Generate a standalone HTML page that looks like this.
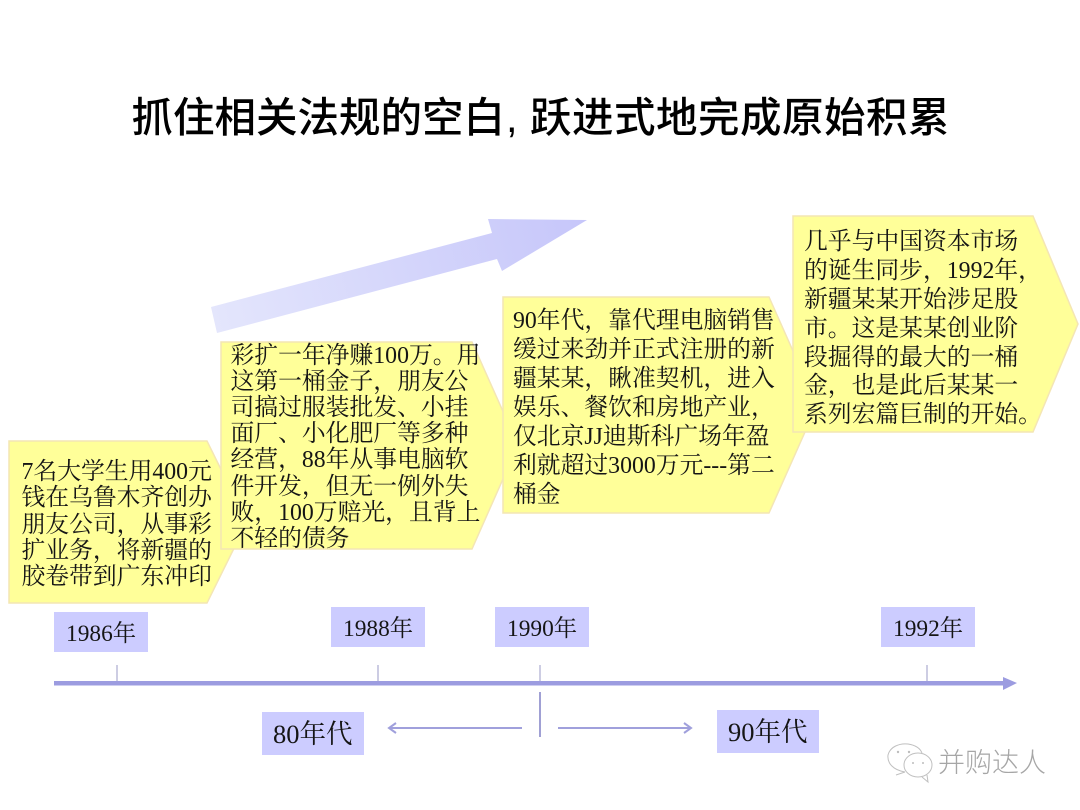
<!DOCTYPE html>
<html lang="zh">
<head>
<meta charset="utf-8">
<title>抓住相关法规的空白，跃进式地完成原始积累</title>
<style>
html,body{margin:0;padding:0;background:#fff;width:1080px;height:810px;overflow:hidden}
svg{display:block}
.t{font-family:"Liberation Serif","Noto Serif CJK SC",serif;font-size:23.8px;fill:#151515}
.y{font-size:23.4px}
.d{font-size:26.5px}
.h{font-family:"Liberation Sans","Noto Sans CJK SC",sans-serif;font-size:41.5px;font-weight:500;fill:#000}
.b{fill:#FFFF99;stroke:#F4E6B4;stroke-width:1.5}
.l{fill:#CCCCFF}
.soft{filter:blur(.35px)}
</style>
</head>
<body>
<svg width="1080" height="810" viewBox="0 0 1080 810" xmlns="http://www.w3.org/2000/svg">
<defs>
<linearGradient id="g" x1="211" y1="320" x2="587" y2="220" gradientUnits="userSpaceOnUse">
<stop offset="0" stop-color="#E4E6FC"/>
<stop offset="1" stop-color="#C6C6FA"/>
</linearGradient>
</defs>
<rect width="1080" height="810" fill="#fff"/>

<g class="soft">
<text class="h" x="131.5" y="132">抓住相关法规的空白</text>
<text class="h" x="506" y="132">,</text>
<text class="h" x="530" y="132" style="letter-spacing:.5px">跃进式地完成原始积累</text>
</g>

<polygon points="211,307 492,233 488,219 587,220 502,271 497,259 217,333" fill="url(#g)"/>

<polygon class="b" points="9,441 207,441 247,522 207,603 9,603"/>
<polygon class="b" points="221,342 472,342 518,445 472,549 221,549"/>
<polygon class="b" points="503,297 769,297 817,405 769,513 503,513"/>
<polygon class="b" points="793,216 1033,216 1078,324 1033,432 793,432"/>

<g class="soft">
<text class="t" x="21.5" y="479">7名大学生用400元</text>
<text class="t" x="21.5" y="505">钱在乌鲁木齐创办</text>
<text class="t" x="21.5" y="532">朋友公司，从事彩</text>
<text class="t" x="21.5" y="558">扩业务，将新疆的</text>
<text class="t" x="21.5" y="584">胶卷带到广东冲印</text>

<text class="t" x="230.5" y="363">彩扩一年净赚100万。用</text>
<text class="t" x="230.5" y="389">这第一桶金子，朋友公</text>
<text class="t" x="230.5" y="415">司搞过服装批发、小挂</text>
<text class="t" x="230.5" y="441">面厂、小化肥厂等多种</text>
<text class="t" x="230.5" y="467">经营，88年从事电脑软</text>
<text class="t" x="230.5" y="494">件开发，但无一例外失</text>
<text class="t" x="230.5" y="520">败，100万赔光，且背上</text>
<text class="t" x="230.5" y="546">不轻的债务</text>

<text class="t" x="513" y="328">90年代，靠代理电脑销售</text>
<text class="t" x="513" y="357">缓过来劲并正式注册的新</text>
<text class="t" x="513" y="386">疆某某，瞅准契机，进入</text>
<text class="t" x="513" y="415">娱乐、餐饮和房地产业，</text>
<text class="t" x="513" y="444">仅北京JJ迪斯科广场年盈</text>
<text class="t" x="513" y="473">利就超过3000万元---第二</text>
<text class="t" x="513" y="502">桶金</text>

<text class="t" x="804" y="249">几乎与中国资本市场</text>
<text class="t" x="804" y="278">的诞生同步，1992年，</text>
<text class="t" x="804" y="307">新疆某某开始涉足股</text>
<text class="t" x="804" y="336">市。这是某某创业阶</text>
<text class="t" x="804" y="365">段掘得的最大的一桶</text>
<text class="t" x="804" y="393">金，也是此后某某一</text>
<text class="t" x="804" y="422">系列宏篇巨制的开始。</text>
</g>

<rect class="l" x="54" y="612" width="94" height="40"/>
<rect class="l" x="331" y="607" width="94" height="40"/>
<rect class="l" x="495" y="607" width="94" height="40"/>
<rect class="l" x="881" y="607" width="94" height="40"/>
<rect class="l" x="262" y="712" width="102" height="43"/>
<rect class="l" x="717" y="710" width="102" height="43"/>

<g class="soft">
<text class="t y" x="66" y="641">1986年</text>
<text class="t y" x="343" y="636">1988年</text>
<text class="t y" x="507" y="636">1990年</text>
<text class="t y" x="893" y="636">1992年</text>
<text class="t d" x="273" y="743">80年代</text>
<text class="t d" x="728" y="741">90年代</text>
</g>

<g stroke="#ABABD0" stroke-width="1.2">
<line x1="117" y1="665" x2="117" y2="683"/>
<line x1="378" y1="665" x2="378" y2="683"/>
<line x1="540" y1="665" x2="540" y2="683"/>
<line x1="927" y1="665" x2="927" y2="683"/>
</g>
<rect x="54" y="681" width="952" height="4.5" fill="#9C9CE0"/>
<polygon points="1003,677 1017,683 1003,690" fill="#9C9CE0"/>
<line x1="540" y1="692" x2="540" y2="737" stroke="#A0A0D4" stroke-width="2"/>

<g stroke="#A0A0DC" stroke-width="2" fill="none">
<line x1="522" y1="728" x2="390" y2="728"/>
<polyline points="396,723 389,728 396,733"/>
<line x1="558" y1="728" x2="690" y2="728"/>
<polyline points="684,723 691,728 684,733"/>
</g>

<g transform="translate(0,3)">
<g fill="none" stroke="#C0C0C0" stroke-width="1">
<path d="M905 769 C893 767 887 760 888 752 C890 744 899 740 908 741 C915 742 920 745 922 750"/>
<path d="M905 769 L896 772"/>
<ellipse cx="918" cy="762" rx="14" ry="12"/>
<path d="M922 774 L928 779 L927 772"/>
</g>
<g fill="#BDBDBD">
<circle cx="898" cy="749" r="1.2"/><circle cx="909" cy="749" r="1.2"/>
<circle cx="913" cy="760" r="1"/><circle cx="923" cy="760" r="1"/>
</g>
</g>
<text x="938" y="772" style="font-family:'Liberation Sans','Noto Sans CJK SC',sans-serif;font-size:27px;font-weight:300;fill:#A6A6A6">并购达人</text>
</svg>
</body>
</html>
